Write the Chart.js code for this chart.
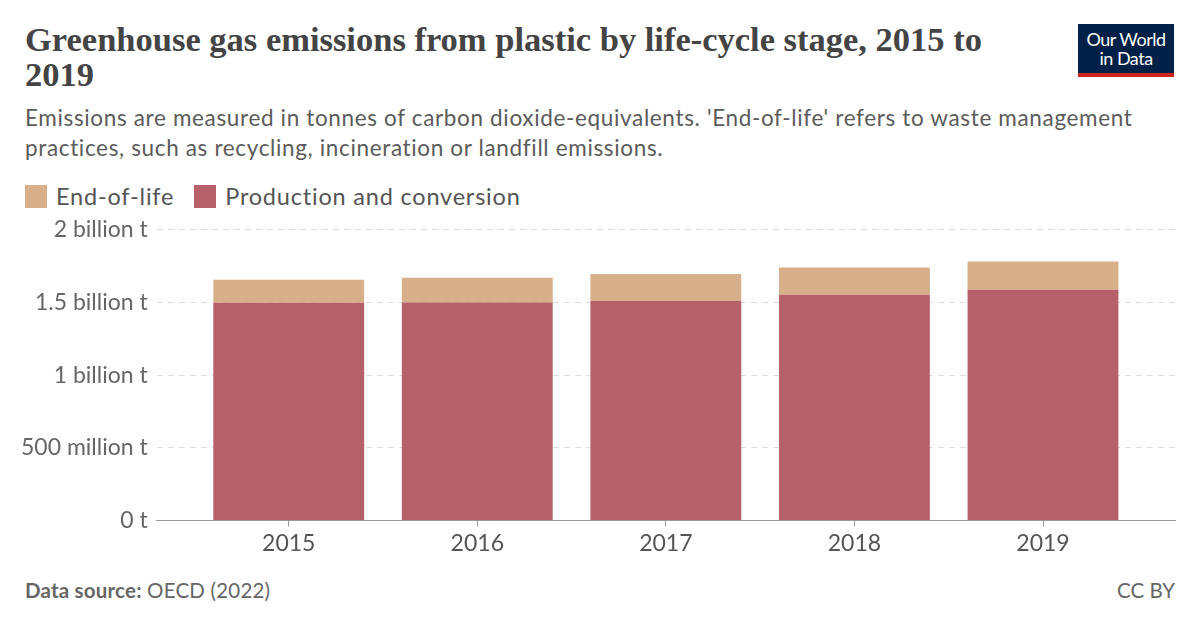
<!DOCTYPE html>
<html><head><meta charset="utf-8">
<script src="https://cdn.jsdelivr.net/npm/chart.js@4"></script>
<style>
body{margin:0;width:1200px;height:627px;background:#fff;font-family:Lato,sans-serif;position:relative;overflow:hidden}
#title{position:absolute;left:25px;top:22px;width:1000px;font-family:"Liberation Serif",serif;font-weight:bold;font-size:34.5px;line-height:35px;color:#444}
#sub{position:absolute;left:25px;top:103px;width:1155px;font-size:22.5px;letter-spacing:0.65px;line-height:30px;color:#5b5b5b}
#legend{position:absolute;left:25px;top:182px;font-size:23.5px;letter-spacing:0.8px;color:#555;display:flex;align-items:center}
.sw{display:inline-block;width:22px;height:23px;margin-right:9px}
.it{display:flex;align-items:center;margin-right:20px}
#logo{position:absolute;left:1078px;top:24px;width:96px;height:53px;background:#002147;color:#fff;font-size:18px;line-height:19px;text-align:center;box-sizing:border-box;padding-top:6px;border-bottom:4px solid #ce261e;letter-spacing:-0.5px}
#src{position:absolute;left:25px;top:578px;font-size:20.5px;letter-spacing:0.2px;color:#666}
#cc{position:absolute;right:25px;top:578px;font-size:20.5px;color:#666}
#wrap{position:absolute;left:0;top:207px;width:1200px;height:353px}
</style></head><body>
<div id="title">Greenhouse gas emissions from plastic by life-cycle stage, 2015 to 2019</div>
<div id="logo">Our World<br>in Data</div>
<div id="sub">Emissions are measured in tonnes of carbon dioxide-equivalents. 'End-of-life' refers to waste management practices, such as recycling, incineration or landfill emissions.</div>
<div id="legend"><span class="it"><span class="sw" style="background:#d7b08a"></span>End-of-life</span><span class="it"><span class="sw" style="background:#b6616a"></span>Production and conversion</span></div>
<div id="wrap"><canvas id="c" width="1200" height="353"></canvas></div>
<div id="src"><b>Data source:</b> OECD (2022)</div>
<div id="cc">CC BY</div>
<script>
const years = ['2015','2016','2017','2018','2019'];
const production = [1.498e9, 1.500e9, 1.512e9, 1.553e9, 1.588e9];
const endOfLife = [0.158e9, 0.170e9, 0.184e9, 0.188e9, 0.194e9];
const yTicks = {0:'0 t',5e8:'500 million t',1e9:'1 billion t',1.5e9:'1.5 billion t',2e9:'2 billion t'};

const toPts = arr => arr.map((v,i)=>({x:i,y:v}));
new Chart(document.getElementById('c'), {
  type:'bar',
  data:{datasets:[
    {label:'Production and conversion',data:toPts(production),backgroundColor:'#b6616a',barPercentage:0.8,categoryPercentage:1},
    {label:'End-of-life',data:toPts(endOfLife),backgroundColor:'#d7b08a',barPercentage:0.8,categoryPercentage:1}
  ]},
  options:{
    responsive:false,animation:false,
    layout:{padding:{top:6,right:25,left:12,bottom:0}},
    plugins:{legend:{display:false},tooltip:{enabled:false}},
    scales:{
      x:{type:'linear',stacked:true,min:-0.7,max:4.7,offset:false,
        afterBuildTicks:(s)=>{s.ticks=years.map((y,i)=>({value:i}));},
        grid:{display:true,offset:false,drawOnChartArea:false,drawTicks:true,tickLength:6,color:'#999'},
        border:{display:true,color:'#999'},
        ticks:{font:{family:'Lato',size:23},color:'#555',padding:3,autoSkip:false,maxRotation:0,callback:(v)=>years[v]}},
      y:{stacked:true,min:0,max:2e9,
        afterBuildTicks:(s)=>{s.ticks=Object.keys(yTicks).map(v=>({value:+v}));},
        grid:{color:'#dcdcdc',drawTicks:false},
        border:{display:false,dash:[6,5]},
        ticks:{font:{family:'Lato',size:23},color:'#666',padding:9,callback:(v)=>yTicks[v]}}
    }
  }
});
</script>
</body></html>
